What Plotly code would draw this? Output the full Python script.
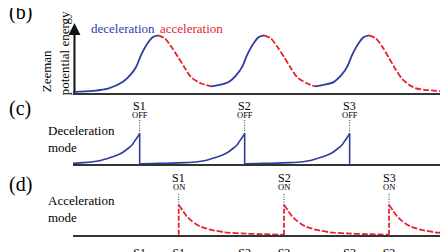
import plotly.graph_objects as go

W, H = 448, 252

# ---------------- data (positions in coil-period units, energies normalised) -------------
# (b) Zeeman potential energy along the beam axis
pos_b = [0.00, 1.90, 3.33, 4.76, 5.55, 6.03, 6.50, 7.14, 7.62, 8.10,
         8.73, 9.36, 10.00, 10.64, 11.27, 12.22, 13.14,
         14.10, 14.86, 15.65, 16.12, 16.60, 17.24, 17.71, 18.19,
         18.83, 19.46, 20.10, 20.73, 21.36, 22.31, 23.05,
         24.00, 24.86, 25.65, 26.12, 26.60, 27.24, 27.71, 28.19,
         28.83, 29.46, 30.10, 30.73, 31.36, 32.00, 32.60, 33.43, 34.19, 35.33, 36.48]
energy_b = [0.00, 0.02, 0.06, 0.18, 0.32, 0.45, 0.66, 0.87, 0.97, 1.00,
            0.95, 0.80, 0.62, 0.43, 0.26, 0.15, 0.10,
            0.13, 0.18, 0.32, 0.45, 0.66, 0.87, 0.97, 1.00,
            0.95, 0.80, 0.62, 0.43, 0.26, 0.15, 0.10,
            0.13, 0.18, 0.32, 0.45, 0.66, 0.87, 0.97, 1.00,
            0.95, 0.80, 0.60, 0.40, 0.23, 0.13, 0.07, 0.04, 0.03, 0.01, 0.00]
peak_pos = [8.10, 18.19, 28.19]
valley_pos = [13.14, 23.05]

# (c) deceleration mode: switch-off positions and the energy removed per stage
off_pos = [6.35, 16.35, 26.35]
decel_pos = [
    [0.00, 1.00, 1.90, 2.73, 3.49, 4.06, 4.60, 5.02, 5.40, 5.68, 5.87, 6.11, 6.35],
    [6.35, 7.50, 8.73, 10.64, 11.90, 12.73, 13.49, 14.06, 14.60, 15.02, 15.40, 15.68, 15.87, 16.11, 16.35],
    [16.35, 17.50, 18.73, 20.64, 21.90, 22.73, 23.49, 24.06, 24.60, 25.02, 25.40, 25.68, 25.87, 26.11, 26.35],
]
decel_val = [
    [0.02, 0.04, 0.07, 0.12, 0.20, 0.27, 0.35, 0.45, 0.55, 0.65, 0.75, 0.87, 1.00],
    [0.00, 0.01, 0.02, 0.04, 0.07, 0.12, 0.20, 0.27, 0.35, 0.45, 0.55, 0.65, 0.75, 0.87, 1.00],
    [0.00, 0.01, 0.02, 0.04, 0.07, 0.12, 0.20, 0.27, 0.35, 0.45, 0.55, 0.65, 0.75, 0.87, 1.00],
]

# (d) acceleration mode: switch-on positions and decays
on_pos = [10.07, 20.10, 30.10]
accel_pos = [
    [10.07, 10.48, 10.83, 11.27, 11.69, 12.22, 13.17, 14.45, 16.03, 17.69, 20.10],
    [20.10, 20.51, 20.86, 21.30, 21.72, 22.25, 23.20, 24.48, 26.06, 27.72, 30.10],
    [30.10, 30.51, 30.86, 31.30, 31.72, 32.25, 33.20, 34.48, 36.06, 36.48],
]
accel_val = [
    [1.00, 0.79, 0.62, 0.47, 0.36, 0.26, 0.16, 0.08, 0.04, 0.02, 0.00],
    [1.00, 0.79, 0.62, 0.47, 0.36, 0.26, 0.16, 0.08, 0.04, 0.02, 0.00],
    [1.00, 0.79, 0.62, 0.47, 0.36, 0.26, 0.16, 0.08, 0.04, 0.035],
]

stage_names = ["S1", "S2", "S3"]
bottom_tick_vals = [off_pos[0], on_pos[0], off_pos[1], on_pos[1], off_pos[2], on_pos[2]]
bottom_tick_text = ["S1", "S1", "S2", "S2", "S3", "S3"]

# ---------------- styling ----------------
BLUE = "#2E3C9E"
RED = "#E6232C"
AXC = "#333333"
FONT = "Liberation Serif"
XMAX = 36.48


def py(px):
    return 1 - px / H


fig = go.Figure()

# (b) split the curve into rising (blue) and falling (red dashed) parts
bounds = sorted([pos_b[0]] + peak_pos + valley_pos + [pos_b[-1]])
for i in range(len(bounds) - 1):
    lo, hi = bounds[i], bounds[i + 1]
    xs = [p for p in pos_b if lo <= p <= hi]
    ys = [e for p, e in zip(pos_b, energy_b) if lo <= p <= hi]
    rising = (i % 2 == 0)
    fig.add_trace(go.Scatter(
        x=xs, y=ys, mode="lines", xaxis="x", yaxis="y",
        line=dict(color=BLUE if rising else RED, width=1.8,
                  dash="solid" if rising else "6px,2px", shape="spline", smoothing=0.8),
        hoverinfo="skip", showlegend=False))

# (c) deceleration mode
for k in range(3):
    fig.add_trace(go.Scatter(
        x=decel_pos[k], y=decel_val[k], mode="lines", xaxis="x2", yaxis="y2",
        line=dict(color=BLUE, width=1.6, shape="spline", smoothing=0.6),
        hoverinfo="skip", showlegend=False))
    fig.add_trace(go.Scatter(
        x=[off_pos[k], off_pos[k]], y=[decel_val[k][-1], 0], mode="lines",
        xaxis="x2", yaxis="y2", line=dict(color=BLUE, width=1.6),
        hoverinfo="skip", showlegend=False))
    fig.add_trace(go.Scatter(
        x=[off_pos[k], off_pos[k]], y=[decel_val[k][-1], 1.47], mode="lines",
        xaxis="x2", yaxis="y2", line=dict(color=AXC, width=1, dash="1px,1.5px"),
        hoverinfo="skip", showlegend=False))

# (d) acceleration mode
for k in range(3):
    fig.add_trace(go.Scatter(
        x=[on_pos[k], on_pos[k]], y=[0, accel_val[k][0]], mode="lines",
        xaxis="x3", yaxis="y3", line=dict(color=RED, width=1.8, dash="5px,2px"),
        hoverinfo="skip", showlegend=False))
    fig.add_trace(go.Scatter(
        x=accel_pos[k], y=accel_val[k], mode="lines", xaxis="x3", yaxis="y3",
        line=dict(color=RED, width=1.8, dash="6px,2px", shape="spline", smoothing=0.6),
        hoverinfo="skip", showlegend=False))
    fig.add_trace(go.Scatter(
        x=[on_pos[k], on_pos[k]], y=[accel_val[k][0], 1.40], mode="lines",
        xaxis="x3", yaxis="y3", line=dict(color=AXC, width=1, dash="1px,1.5px"),
        hoverinfo="skip", showlegend=False))

xdom = [65 / W, 1]
common_x = dict(domain=xdom, range=[0, XMAX], showline=True, linecolor=AXC, linewidth=2,
                showgrid=False, zeroline=False, fixedrange=True)
hidden_y = dict(showline=False, showgrid=False, zeroline=False, showticklabels=False,
                ticks="", fixedrange=True)

annotations = []


def ann(text, x, y, size=13, color="black", xref="paper", yref="paper", **kw):
    annotations.append(dict(text=text, x=x, y=y, xref=xref, yref=yref, showarrow=False,
                            font=dict(family=FONT, size=size, color=color), **kw))


ann("(b)", 12 / W, py(5), size=20, xanchor="center", yanchor="middle")
ann("(c)", 12 / W, py(106.5), size=20, xanchor="center", yanchor="middle")
ann("(d)", 12 / W, py(187), size=20, xanchor="center", yanchor="middle")
ann("Zeeman", 38 / W, py(67), size=13, textangle=-90, xanchor="center", yanchor="middle")
ann("potential energy", 56 / W, py(48), size=13, textangle=-90, xanchor="center", yanchor="middle")
ann("deceleration", 115 / W, py(22), size=13, color=BLUE, xanchor="center", yanchor="middle")
ann("acceleration", 183 / W, py(22), size=13, color=RED, xanchor="center", yanchor="middle")
ann("Deceleration<br>mode", 38 / W, py(139), size=13, xanchor="left", yanchor="middle", align="left")
ann("Acceleration<br>mode", 38 / W, py(213), size=13, xanchor="left", yanchor="middle", align="left")

for k in range(3):
    ann(stage_names[k], off_pos[k], py(104), size=12, xref="x2", xanchor="center", yanchor="middle")
    ann("OFF", off_pos[k], py(113.5), size=8.5, xref="x2", xanchor="center", yanchor="middle")
    ann(stage_names[k], on_pos[k], py(180), size=12, xref="x3", xanchor="center", yanchor="middle")
    ann("ON", on_pos[k], py(189), size=8.5, xref="x3", xanchor="center", yanchor="middle")

# y-axis arrow of panel (b)
annotations.append(dict(x=0.14, y=1.22, ax=0.14, ay=-0.03, xref="x", yref="y",
                        axref="x", ayref="y", text="", showarrow=True,
                        arrowhead=2, arrowsize=1.2, arrowwidth=2, arrowcolor="#111111"))

fig.update_layout(
    width=W, height=H,
    margin=dict(l=0, r=0, t=0, b=0),
    paper_bgcolor="white", plot_bgcolor="rgba(0,0,0,0)",
    showlegend=False,
    xaxis=dict(anchor="y", showticklabels=False, ticks="", **common_x),
    yaxis=dict(domain=[py(90), py(14)], range=[-1 / 60, 75 / 60], anchor="x", **hidden_y),
    xaxis2=dict(anchor="y2", showticklabels=False, ticks="", **common_x),
    yaxis2=dict(domain=[py(165.5), py(110)], range=[-0.5 / 32, 55 / 32], anchor="x2", **hidden_y),
    xaxis3=dict(anchor="y3", tickvals=bottom_tick_vals, ticktext=bottom_tick_text,
                ticks="outside", ticklen=5, tickcolor="rgba(0,0,0,0)",
                tickfont=dict(family=FONT, size=12, color="black"), **common_x),
    yaxis3=dict(domain=[py(240.5), py(185)], range=[-0.5 / 31.5, 55 / 31.5], anchor="x3", **hidden_y),
    annotations=annotations,
)

fig.write_html("out.html")
